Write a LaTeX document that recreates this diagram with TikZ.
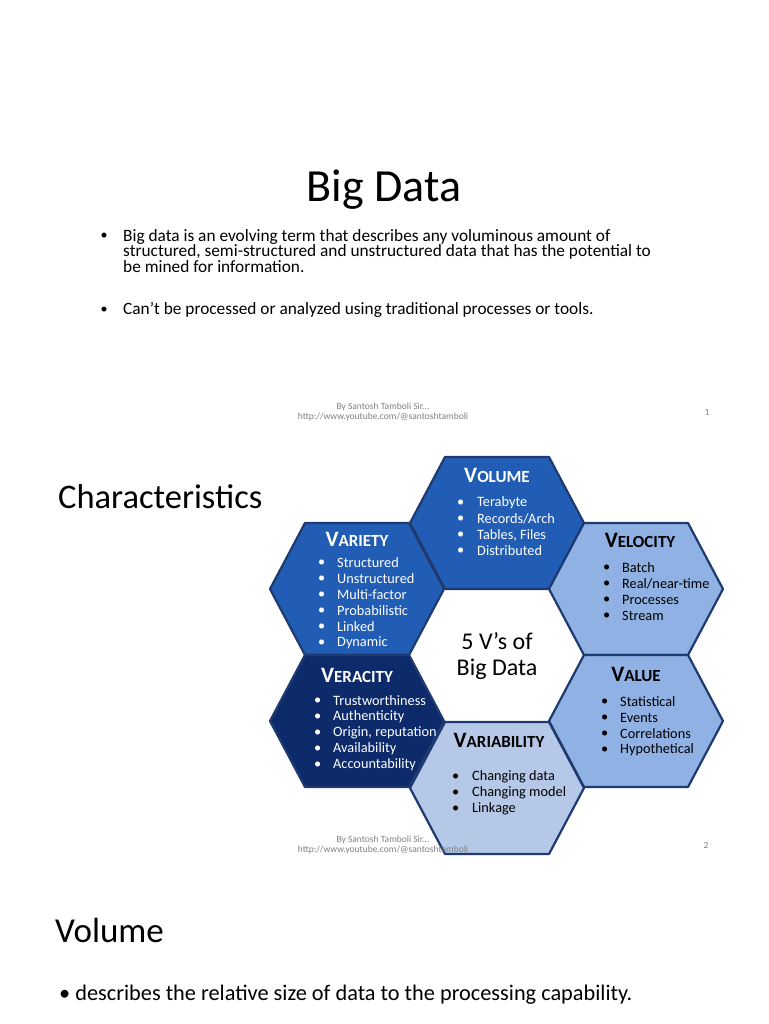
\documentclass[tikz,border=0pt]{standalone}
\usepackage{fontspec}
\setmainfont{Carlito}
\begin{document}
\begin{tikzpicture}[x=1pt,y=-1pt,
  lbl/.style={anchor=west,inner sep=0pt,font=\fontsize{14.3}{15}\selectfont},
  ttl/.style={anchor=center,inner sep=0pt,font=\bfseries},
  foot/.style={inner sep=0pt,text=gray,font=\fontsize{9.5}{10.5}\selectfont,align=center},
  body/.style={anchor=west,inner sep=0pt,font=\fontsize{17.3}{15.5}\selectfont,align=left}]
\definecolor{hexmid}{HTML}{215DB4}
\definecolor{hexdark}{HTML}{0D2A6B}
\definecolor{hexlight}{HTML}{8FB1E3}
\definecolor{hexpale}{HTML}{B6C8E8}
\definecolor{hexedge}{HTML}{1E3A70}
\useasboundingbox (0,0) rectangle (768,1024);
\fill[white] (0,0) rectangle (768,1024);
\newcommand{\hexat}[3]{%
 \filldraw[fill=#3,draw=hexedge,line width=2.2pt,line join=round]
  ({#1-87},#2) -- ++(35,-66) -- ++(104,0) -- ++(35,66) -- ++(-35,66) -- ++(-104,0) -- cycle;}
\newcommand{\sctitle}[2]{{\fontsize{22}{22}\selectfont #1}{\fontsize{17}{17}\selectfont #2}}
% title & bullets
\node[inner sep=0pt,font=\fontsize{46}{48}\selectfont] (title) at (384,190) {Big Data};
\node[inner sep=0pt,font=\fontsize{14}{15}\selectfont] (b1) at (104,236) {•};
\node[body,anchor=north west] (t1) at (123,229) {Big data is an evolving term that describes any voluminous amount of\\structured, semi-structured and unstructured data that has the potential to\\be mined for information.};
\node[inner sep=0pt,font=\fontsize{14}{15}\selectfont] (b2) at (104,310) {•};
\node[body] (t2) at (123,310) {Can’t be processed or analyzed using traditional processes or tools.};
\node[foot] (f1) at (383,412) {By Santosh Tamboli Sir...\\http://www.youtube.com/@santoshtamboli};
\node[foot] (n1) at (707,412) {1};
\node[anchor=west,inner sep=0pt,font=\fontsize{34.5}{36}\selectfont] (ch) at (58,497) {Characteristics};
% hexagons
\hexat{497}{523}{hexmid}
\hexat{357}{589}{hexmid}
\hexat{636}{589}{hexlight}
\hexat{357}{721}{hexdark}
\hexat{636}{721}{hexlight}
\hexat{497}{788}{hexpale}
\node[ttl,text=white] (volT) at (497,475) {\sctitle{V}{OLUME}};
\foreach \t [count=\i] in {Terabyte,Records/Arch,{Tables, Files},Distributed}{
  \node[lbl,text=white] (vo\i) at (457,503+16*\i-16) {•};
  \node[lbl,text=white] (vot\i) at (477,503+16*\i-16) {\t};}
\node[ttl,text=white] (varT) at (357,539) {\sctitle{V}{ARIETY}};
\foreach \t [count=\i] in {Structured,Unstructured,Multi-factor,Probabilistic,Linked,Dynamic}{
  \node[lbl,text=white] (va\i) at (318,563+16*\i-16) {•};
  \node[lbl,text=white] (vat\i) at (337,563+16*\i-16) {\t};}
\node[ttl,text=black] (velT) at (640,540) {\sctitle{V}{ELOCITY}};
\foreach \t [count=\i] in {Batch,Real/near-time,Processes,Stream}{
  \node[lbl] (ve\i) at (603,568+16*\i-16) {•};
  \node[lbl] (vet\i) at (622,568+16*\i-16) {\t};}
\node[ttl,text=black] (valT) at (636,674) {\sctitle{V}{ALUE}};
\foreach \t [count=\i] in {Statistical,Events,Correlations,Hypothetical}{
  \node[lbl] (vl\i) at (601,702+16*\i-16) {•};
  \node[lbl] (vlt\i) at (620,702+16*\i-16) {\t};}
\node[ttl,text=white] (verT) at (357,675) {\sctitle{V}{ERACITY}};
\foreach \t [count=\i] in {Trustworthiness,Authenticity,{Origin, reputation},Availability,Accountability}{
  \node[lbl,text=white] (vr\i) at (314,701+16*\i-16) {•};
  \node[lbl,text=white] (vrt\i) at (333,701+16*\i-16) {\t};}
\node[ttl,text=black] (vbT) at (499,740) {\sctitle{V}{ARIABILITY}};
\foreach \t [count=\i] in {Changing data,Changing model,Linkage}{
  \node[lbl] (vb\i) at (452,777+16*\i-16) {•};
  \node[lbl] (vbt\i) at (472,777+16*\i-16) {\t};}
\node[inner sep=0pt,align=center,font=\fontsize{24}{26}\selectfont] (ctr) at (497,656) {5 V’s of\\Big Data};
\node[foot] (f2) at (383,845) {By Santosh Tamboli Sir...\\http://www.youtube.com/@santoshtamboli};
\node[foot] (n2) at (706,845) {2};
\node[anchor=west,inner sep=0pt,font=\fontsize{35}{36}\selectfont] (vol) at (55,930) {Volume};
\node[anchor=west,inner sep=0pt,font=\fontsize{22.3}{24}\selectfont] (vd) at (59,995) {• describes the relative size of data to the processing capability.};
\end{tikzpicture}
\end{document}
